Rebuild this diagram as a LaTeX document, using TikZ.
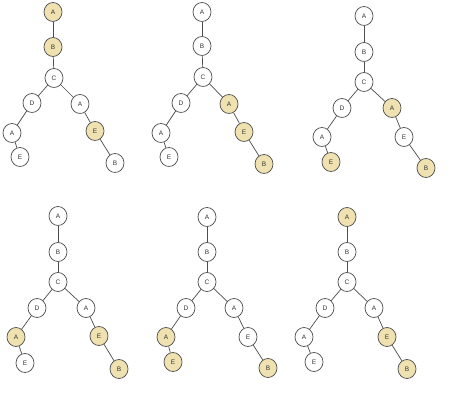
\documentclass[tikz,border=0pt]{standalone}
\usepackage{fontspec}
\setmainfont{Liberation Sans}
\usetikzlibrary{shapes.geometric}
\begin{document}
\begin{tikzpicture}[x=1pt,y=-1pt,
  nd/.style={ellipse,draw=black!70,line width=0.7pt,fill=white,inner sep=0pt,
    minimum width=18pt,minimum height=19pt,font=\fontsize{6.5}{7}\selectfont,text=black!80},
  hl/.style={nd,fill=hlc},
  ln/.style={draw=black!70,line width=0.7pt}]
\definecolor{hlc}{HTML}{EFE2B0}
\useasboundingbox[fill=white] (0,0) rectangle (474,403);
% tree 1
\node[hl] (t1a) at (53,12) {A};
\node[hl] (t1b) at (53,47) {B};
\node[nd] (t1c) at (54,78) {C};
\node[nd] (t1d) at (32,103) {D};
\node[nd] (t1r) at (80,104) {A};
\node[nd] (t1l) at (12,133) {A};
\node[nd] (t1f) at (20,157) {E};
\node[hl] (t1e) at (95,131) {E};
\node[nd] (t1g) at (115,163) {B};
% tree 2
\node[nd] (t2a) at (202,12) {A};
\node[nd] (t2b) at (202,46) {B};
\node[nd] (t2c) at (203,77) {C};
\node[nd] (t2d) at (181,103) {D};
\node[hl] (t2r) at (229,104) {A};
\node[nd] (t2l) at (161,133) {A};
\node[nd] (t2f) at (169,157) {E};
\node[hl] (t2e) at (244,132) {E};
\node[hl] (t2g) at (264,164) {B};
% tree 3
\node[nd] (t3a) at (364,16) {A};
\node[nd] (t3b) at (364,52) {B};
\node[nd] (t3c) at (364,82) {C};
\node[nd] (t3d) at (342,108) {D};
\node[hl] (t3r) at (392,108) {A};
\node[nd] (t3l) at (322,137) {A};
\node[hl] (t3f) at (331,162) {E};
\node[nd] (t3e) at (404,137) {E};
\node[hl] (t3g) at (426,168) {B};
% tree 4
\node[nd] (t4a) at (58,216) {A};
\node[nd] (t4b) at (58,252) {B};
\node[nd] (t4c) at (58,282) {C};
\node[nd] (t4d) at (37,308) {D};
\node[nd] (t4r) at (86,308) {A};
\node[hl] (t4l) at (16,337) {A};
\node[nd] (t4f) at (25,363) {E};
\node[hl] (t4e) at (99,336) {E};
\node[hl] (t4g) at (119,369) {B};
% tree 5
\node[nd] (t5a) at (207,217) {A};
\node[nd] (t5b) at (207,252) {B};
\node[nd] (t5c) at (207,282) {C};
\node[nd] (t5d) at (186,308) {D};
\node[nd] (t5r) at (234,308) {A};
\node[hl] (t5l) at (166,337) {A};
\node[hl] (t5f) at (173,362) {E};
\node[nd] (t5e) at (248,337) {E};
\node[hl] (t5g) at (268,368) {B};
% tree 6
\node[hl] (t6a) at (347,217) {A};
\node[nd] (t6b) at (347,252) {B};
\node[nd] (t6c) at (347,282) {C};
\node[nd] (t6d) at (325,308) {D};
\node[nd] (t6r) at (374,308) {A};
\node[nd] (t6l) at (304,337) {A};
\node[nd] (t6f) at (314,362) {E};
\node[hl] (t6e) at (387,337) {E};
\node[hl] (t6g) at (407,369) {B};
\foreach \t in {1,...,6}{
  \draw[ln] (t\t a) -- (t\t b);
  \draw[ln] (t\t b) -- (t\t c);
  \draw[ln] (t\t c) -- (t\t d);
  \draw[ln] (t\t c) -- (t\t r);
  \draw[ln] (t\t d) -- (t\t l);
  \draw[ln] (t\t l) -- (t\t f);
  \draw[ln] (t\t r) -- (t\t e);
  \draw[ln] (t\t e) -- (t\t g);
}
\end{tikzpicture}
\end{document}
